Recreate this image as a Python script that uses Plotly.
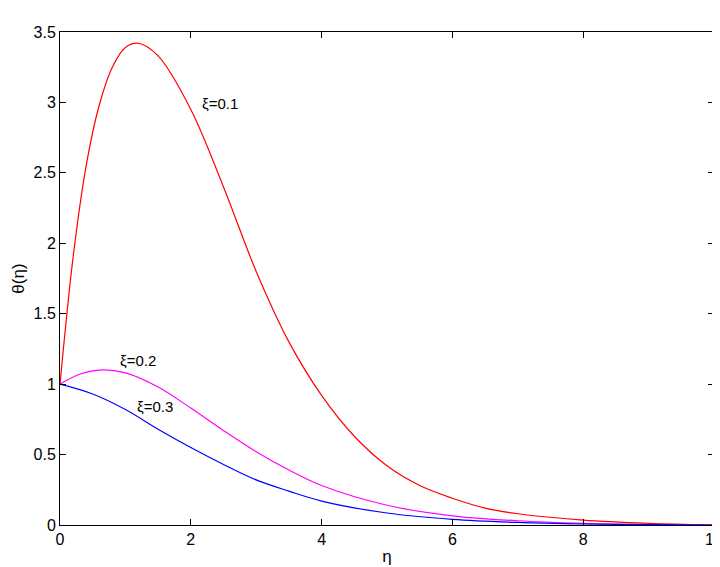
import plotly.graph_objects as go

eta_red = [0,0.2,0.4,0.6,0.8,1.0,1.2,1.5,2,2.5,3,3.5,4,4.5,5,5.5,6,6.5,7,8,9,10]
theta_red = [1,1.9,2.55,2.98,3.25,3.39,3.42,3.33,2.95,2.4,1.8,1.3,0.92,0.63,0.42,0.28,0.19,0.12,0.08,0.035,0.012,0]
eta_mag = [0,0.3,0.6,1,1.5,2,2.5,3,3.5,4,5,6,7,8,9,10]
theta_mag = [1,1.07,1.1,1.08,0.98,0.83,0.67,0.52,0.39,0.28,0.14,0.065,0.03,0.012,0.004,0]
eta_blue = [0,0.5,1,1.5,2,2.5,3,3.5,4,5,6,7,8,9,10]
theta_blue = [1,0.93,0.82,0.68,0.55,0.43,0.32,0.24,0.17,0.085,0.04,0.018,0.007,0.002,0]
labels = ["ξ=0.1","ξ=0.2","ξ=0.3"]
label_x = [2.45,1.2,1.45]
label_y = [2.99,1.17,0.84]

fig = go.Figure()
for x,y,c in [(eta_red,theta_red,"#ff0000"),(eta_mag,theta_mag,"#ff00ff"),(eta_blue,theta_blue,"#0000ff")]:
    fig.add_trace(go.Scatter(x=x,y=y,mode="lines",line=dict(color=c,width=1.2,shape="spline",smoothing=1.0),showlegend=False))
for t,x,y in zip(labels,label_x,label_y):
    fig.add_annotation(x=x,y=y,text=t,showarrow=False,font=dict(size=15,color="black"))
ax = dict(showgrid=False,zeroline=False,showline=True,mirror="ticks",linecolor="black",ticks="inside",ticklen=6,tickcolor="black",tickfont=dict(size=16,color="black"))
fig.update_xaxes(range=[0,10],dtick=2,title=dict(text="η",font=dict(size=17),standoff=2),**ax)
fig.update_yaxes(range=[0,3.5],dtick=0.5,title=dict(text="θ(η)",font=dict(size=17),standoff=4),**ax)
fig.update_layout(width=720,height=567,margin=dict(l=52,r=14,t=24,b=50,autoexpand=False),plot_bgcolor="white",paper_bgcolor="white",font=dict(family="Liberation Sans",color="black"))
fig.write_html("out.html")
